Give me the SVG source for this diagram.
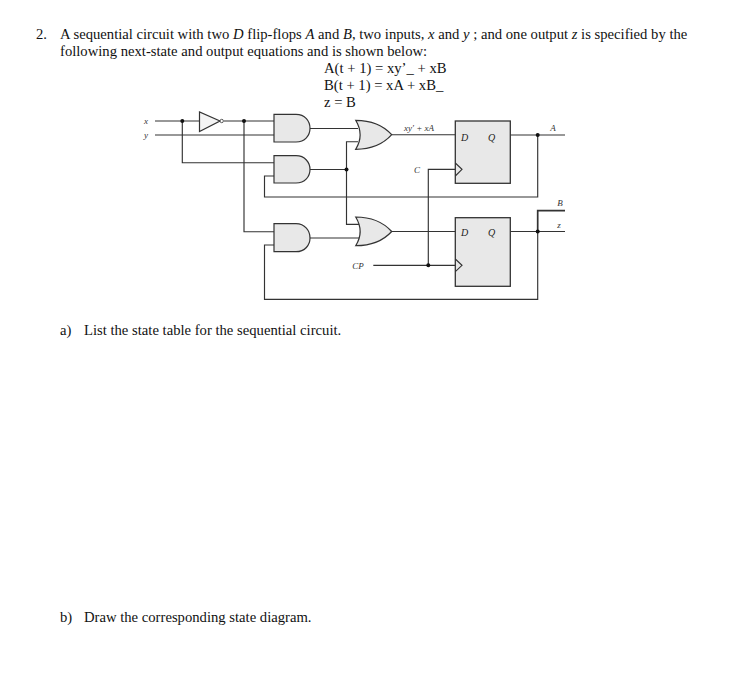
<svg xmlns="http://www.w3.org/2000/svg" width="745" height="697" viewBox="0 0 745 697">
<style>
text{font-family:"Liberation Serif","Times New Roman",serif;fill:#111}
.t{font-size:14.67px}
.l{font-size:9px;font-style:italic;fill:#333}
.b{font-size:10px;font-style:italic;fill:#222}
.w{fill:none;stroke:#333;stroke-width:1.15}
.g{fill:#e8e8e8;stroke:#333;stroke-width:1.2}
.d{fill:#111;stroke:none}
</style>
<rect width="745" height="697" fill="#fff"/>
<g id="text">
<text class="t" x="36" y="39">2.</text>
<text class="t" x="60" y="39">A sequential circuit with two <tspan font-style="italic">D</tspan> flip-flops <tspan font-style="italic">A</tspan> and <tspan font-style="italic">B</tspan>, two inputs, <tspan font-style="italic">x</tspan> and <tspan font-style="italic">y</tspan> ; and one output <tspan font-style="italic">z</tspan> is specified by the</text>
<text class="t" x="60" y="56">following next-state and output equations and is shown below:</text>
<text class="t" x="324" y="73">A(t + 1) = xy’_ + xB</text>
<text class="t" x="324" y="90">B(t + 1) = xA + xB_</text>
<text class="t" x="324" y="107">z = B</text>
<text class="t" x="60" y="335">a)</text>
<text class="t" x="84" y="335">List the state table for the sequential circuit.</text>
<text class="t" x="60" y="622">b)</text>
<text class="t" x="84" y="622">Draw the corresponding state diagram.</text>
</g>
<g id="connectors">
<path class="w" d="M155 121H199.500M224 121H274M155 135H274M182.300 121V162.700H274M244 121V231.700H274M274 176H264.500V197H537.700V135M274 245H264.500V299.300H537.700V231.500M310 128.500H358M310 169.500H346.500M358 141.700H346.500V224.300H361M310 238H361M391.700 134.700H455.300M510.300 135H565M391.700 231.500H455.300M510.300 231.500H565M455.300 169.300H428.300V265.300M373.300 265.300H455.300"/>
<path class="w" style="stroke-width:1.7" d="M537.700 231.500V210.700H565"/>
<circle class="d" cx="182.300" cy="121" r="2"/>
<circle class="d" cx="244" cy="121" r="2"/>
<circle class="d" cx="346.500" cy="169.500" r="2"/>
<circle class="d" cx="537.700" cy="135" r="2"/>
<circle class="d" cx="537.700" cy="231.500" r="2"/>
<circle class="d" cx="428.300" cy="265.300" r="2"/>
</g>
<g id="inverter">
<path class="g" style="fill:#f4f4f4" d="M199.500 112V131.500L220 121Z"/>
<circle cx="221.700" cy="121" r="1.700" fill="#fff" stroke="#333" stroke-width="0.800"/>
</g>
<g id="and1"><path class="g" d="M274 114.300H296C305 114.300 310 121 310 128.200S305 142 296 142H274Z"/></g>
<g id="and2"><path class="g" d="M274 155.700H296C305 155.700 310 162.500 310 169.500S305 183 296 183H274Z"/></g>
<g id="and3"><path class="g" d="M274 223.700H296C305 223.700 310 231 310 238S305 251.700 296 251.700H274Z"/></g>
<g id="or1"><path class="g" d="M355.700 120.300C370 120.300 383 125 391.700 134.700C383 144.500 370 149.300 355.700 149.300C361.500 140 361.500 130 355.700 120.300Z"/></g>
<g id="or2"><path class="g" d="M355.700 217C370 217 383 222 391.700 231.500C383 241 370 245.700 355.700 245.700C361.500 236.500 361.500 226.500 355.700 217Z"/></g>
<g id="ffa">
<rect class="g" x="455.300" y="121" width="55" height="62.300" style="stroke-width:1.300"/>
<path class="w" d="M455.300 163L462 169.300L455.300 176"/>
<text class="b" x="464.500" y="140.500" text-anchor="middle">D</text>
<text class="b" x="491.500" y="140.500" text-anchor="middle">Q</text>
</g>
<g id="ffb">
<rect class="g" x="455.300" y="217.700" width="55" height="68.600" style="stroke-width:1.300"/>
<path class="w" d="M455.300 259L462 265.300L455.300 271.600"/>
<text class="b" x="464.500" y="235.500" text-anchor="middle">D</text>
<text class="b" x="491.500" y="235.500" text-anchor="middle">Q</text>
</g>
<g id="labels">
<text class="l" x="146" y="124" text-anchor="middle">x</text>
<text class="l" x="146" y="138" text-anchor="middle">y</text>
<text class="l" x="419" y="131" text-anchor="middle">xy′ + xA</text>
<text class="l" x="417" y="172.500" text-anchor="middle">C</text>
<text class="l" x="358" y="268.500" text-anchor="middle">CP</text>
<text class="l" x="553" y="131" text-anchor="middle">A</text>
<text class="l" x="560" y="206" text-anchor="middle">B</text>
<text class="l" x="559" y="228" text-anchor="middle">z</text>
</g>
</svg>
